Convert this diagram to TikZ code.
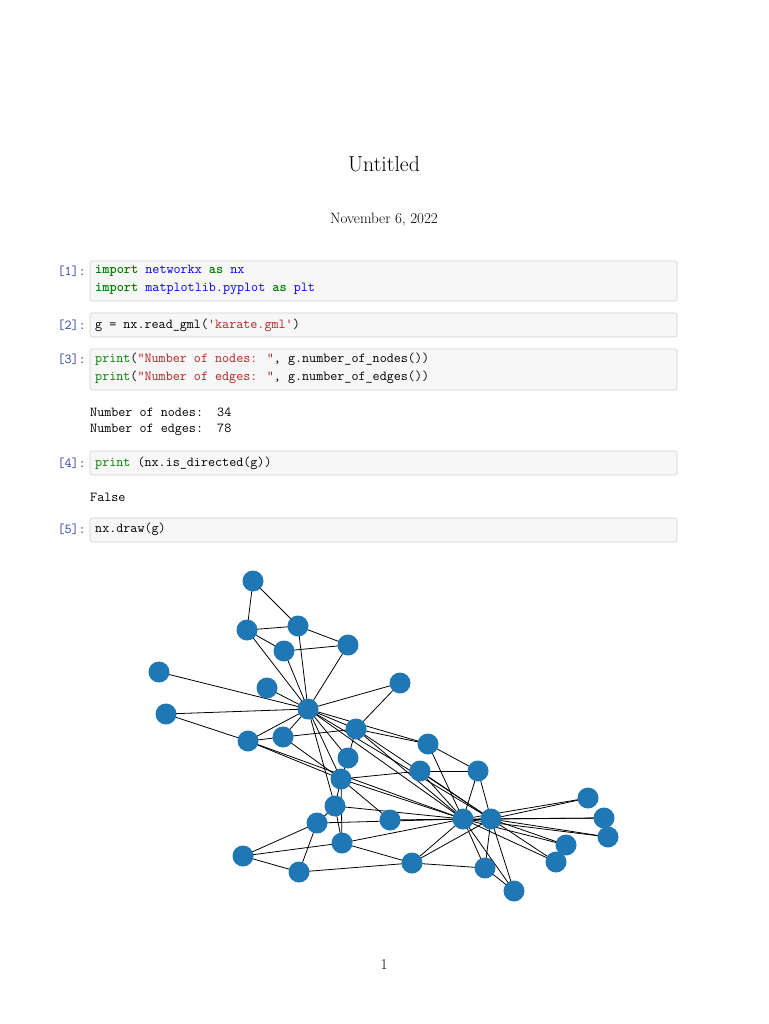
\documentclass[tikz,border=0pt]{standalone}
\usepackage{fontspec}
\definecolor{nb}{HTML}{1F77B4}
\definecolor{kw}{HTML}{008000}
\definecolor{mod}{HTML}{0000FF}
\definecolor{str}{HTML}{BA2121}
\definecolor{prm}{HTML}{303F9F}
\definecolor{cellbg}{HTML}{F7F7F7}
\definecolor{cellbd}{HTML}{CFCFCF}
\begin{document}
\begin{tikzpicture}[x=1pt,y=-1pt,
  cell/.style={draw=cellbd,fill=cellbg,rounded corners=2pt,line width=0.6pt},
  code/.style={anchor=west,inner sep=0pt,font=\fontsize{13.7}{18}\ttfamily},
  prompt/.style={anchor=east,inner sep=0pt,text=prm,font=\fontsize{13.7}{18}\ttfamily},
  gn/.style={circle,fill=nb,minimum size=21pt,inner sep=0pt},
  ge/.style={line width=0.8pt,black}]
\useasboundingbox (0,0) rectangle (768,1024);
\node[font=\fontsize{21.7}{26}\selectfont] (title) at (384,164) {Untitled};
\node[font=\fontsize{15}{18}\selectfont] (date) at (384,220) {November 6, 2022};
% cells
\draw[cell] (90,261) rectangle (677,301);
\node[prompt] (p1) at (86,271) {[1]:};
\node[code] (c1a) at (95,271) {\textcolor{kw}{\bfseries import} \textcolor{mod}{networkx} \textcolor{kw}{\bfseries as} \textcolor{mod}{nx}};
\node[code] (c1b) at (95,289) {\textcolor{kw}{\bfseries import} \textcolor{mod}{matplotlib.pyplot} \textcolor{kw}{\bfseries as} \textcolor{mod}{plt}};
\draw[cell] (90,313) rectangle (677,337);
\node[prompt] (p2) at (86,325) {[2]:};
\node[code] (c2) at (95,325) {g = nx.read\_gml(\textcolor{str}{'karate.gml'})};
\draw[cell] (90,349) rectangle (677,390);
\node[prompt] (p3) at (86,359) {[3]:};
\node[code] (c3a) at (95,359) {\textcolor{kw}{print}(\textcolor{str}{"Number of nodes: "}, g.number\_of\_nodes())};
\node[code] (c3b) at (95,377) {\textcolor{kw}{print}(\textcolor{str}{"Number of edges: "}, g.number\_of\_edges())};
\node[code] (o3a) at (90,412) {Number of nodes:\ \ 34};
\node[code] (o3b) at (90,430) {Number of edges:\ \ 78};
\draw[cell] (90,451) rectangle (677,475);
\node[prompt] (p4) at (86,463) {[4]:};
\node[code] (c4) at (95,463) {\textcolor{kw}{print} (nx.is\_directed(g))};
\node[code] (o4) at (90,497) {False};
\draw[cell] (90,518) rectangle (677,542);
\node[prompt] (p5) at (86,529) {[5]:};
\node[code] (c5) at (95,529) {nx.draw(g)};
\node[font=\fontsize{15}{18}\selectfont] (pg) at (384,965) {1};
% graph nodes
\foreach \n/\x/\y in {A/253/581,B/247/630,C/298/626,D/284/651,E/348/645,F/159/672,G/267/688,H/400/683,I/166/714,J/308/709,K/248/741,L/283/737,M/356/729,N/428/744,O/348/758,P/420/771,Q/478/771,R/341/779,S/335/806,T/317/823,U/390/820,V/463/819,W/491/819,X/588/798,Y/604/818,Z/608/837,AA/566/845,AB/556/862,AC/342/843,AD/243/856,AE/299/872,AF/412/863,AG/485/868,AH/514/891}
  \coordinate (\n) at (\x,\y);
\begin{scope}[ge]
\foreach \a/\b in {A/B,A/C,B/C,B/D,B/J,C/E,C/J,D/E,D/J,E/J,F/J,G/J,H/J,H/M,I/J,I/K,K/J,L/J,K/L,L/M,K/R,K/V,L/R,J/M,J/N,J/O,J/R,J/S,J/V,J/W,M/N,M/O,M/V,M/W,O/R,P/R,P/Q,P/V,P/W,N/Q,N/V,Q/V,Q/W,R/S,R/V,R/AC,R/U,S/T,S/V,S/AC,T/AD,T/AE,T/V,U/V,AC/AD,AC/AF,AC/V,AD/AE,AE/AF,AF/V,AF/W,AF/AG,AG/V,AG/W,AG/AH,AH/V,AH/W,X/V,X/W,Y/V,Y/W,Z/V,Z/W,AA/V,AA/W,AB/V,AB/W,V/W}
  \draw (\a) -- (\b);
\end{scope}
\foreach \n in {A,B,C,D,E,F,G,H,I,J,K,L,M,N,O,P,Q,R,S,T,U,V,W,X,Y,Z,AA,AB,AC,AD,AE,AF,AG,AH}
  \node[gn] (n\n) at (\n) {};
\end{tikzpicture}
\end{document}
